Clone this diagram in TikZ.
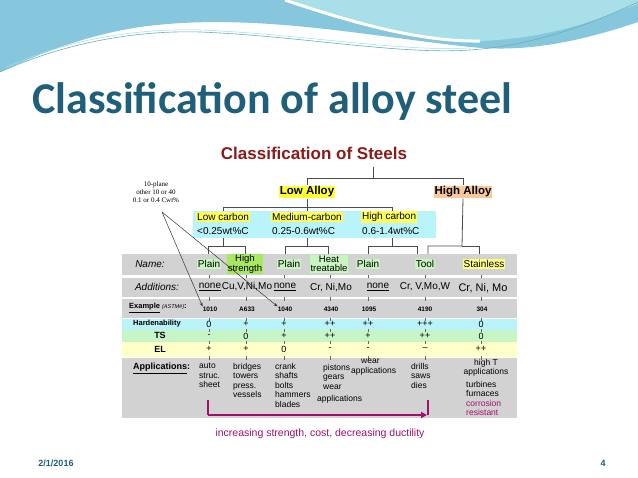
\documentclass[tikz,border=0pt]{standalone}
\usepackage{fontspec}
\setmainfont{Liberation Sans}
\newfontfamily\carlitofam{Carlito}
\newfontfamily\seriffam{Liberation Serif}
\usetikzlibrary{arrows.meta}
\definecolor{teal1}{HTML}{1F5F7A}
\definecolor{wave1}{HTML}{86C7DE}
\definecolor{wave2}{HTML}{A8DFE8}
\definecolor{dred}{HTML}{8B1A1A}
\definecolor{yel}{HTML}{FFFF33}
\definecolor{ora}{HTML}{F9C89B}
\definecolor{cya}{HTML}{B8F4FA}
\definecolor{lgr}{HTML}{C8F5C0}
\definecolor{hgr}{HTML}{A8E860}
\definecolor{band}{HTML}{D2D2D2}
\definecolor{tsg}{HTML}{C8F5C8}
\definecolor{ely}{HTML}{FFFFC8}
\definecolor{purp}{HTML}{A0106A}
\tikzset{
 t/.style={inner sep=1pt,font=\fontsize{10}{11}\selectfont,align=center},
 sm/.style={inner sep=0pt,font=\fontsize{6.5}{7}\selectfont\bfseries},
 vl/.style={font=\fontsize{9}{9}\selectfont,inner sep=0pt},
 app/.style={font=\fontsize{8.5}{9.5}\selectfont,align=left,anchor=north west,inner sep=0pt},
 tree/.style={draw=black!70,line width=0.8pt},
 tick/.style={draw=black!60,line width=0.5pt}
}
\begin{document}
\begin{tikzpicture}[x=1pt,y=-1pt]
\useasboundingbox (0,0) rectangle (638,478);
\fill[white] (0,0) rectangle (638,478);
% header waves
\fill[wave1] (0,0) -- (638,0) -- (638,22) .. controls (570,45) and (520,52) .. (470,47) .. controls (360,35) and (250,12) .. (140,27) .. controls (80,36) and (30,58) .. (0,72) -- cycle;
\fill[wave2] (290,0) .. controls (350,22) and (420,42) .. (480,41) .. controls (560,38) and (610,14) .. (638,4) -- (638,0) -- cycle;
\draw[white,line width=3pt] (285,0) .. controls (350,22) and (420,42) .. (480,41);
\draw[teal!60,line width=0.6pt] (0,72) .. controls (60,45) and (130,30) .. (200,32) .. controls (300,36) and (400,55) .. (470,50) .. controls (540,45) and (600,20) .. (638,2);
\draw[cyan!40,line width=0.5pt] (5,68) .. controls (60,42) and (130,28) .. (200,30) .. controls (300,34) and (400,52) .. (470,48);
% title
\node[anchor=west,inner sep=0pt,text=teal1,font=\carlitofam\bfseries\fontsize{44}{46}\selectfont] (title) at (32,101) {Classification of alloy steel};
% diagram
\node[text=dred,font=\fontsize{17}{18}\selectfont\bfseries,inner sep=0pt] (cs) at (314,153) {Classification of Steels};
\coordinate (top) at (373,167);
\node[t,fill=yel,font=\fontsize{11.5}{12}\selectfont\bfseries] (low) at (307,192) {Low Alloy};
\node[t,fill=ora,font=\fontsize{11.5}{12}\selectfont\bfseries] (high) at (463,192) {High Alloy};
\draw[tree] (top) -- (373,178) -| (low.north);
\draw[tree] (373,178) -| (high.north);
% carbon box
\fill[cya] (193,211) rectangle (436,238);
\node[t,anchor=west,fill=yel!80] (lc) at (196,217) {Low carbon};
\node[t,anchor=west] (lcv) at (196,231) {<0.25wt\%C};
\node[t,anchor=west,fill=yel!80] (mc) at (271,217) {Medium-carbon};
\node[t,anchor=west] (mcv) at (271,231) {0.25-0.6wt\%C};
\node[t,anchor=west,fill=yel!80] (hc) at (361,217) {High carbon};
\node[t,anchor=west] (hcv) at (361,231) {0.6-1.4wt\%C};
\draw[tree] (low.south) -- (307,207) -- (223,207) -- (223,211);
\draw[tree] (307,207) -- (392,207) -- (392,211);
\draw[tree] (307,207) -- (307,211);
% bands
\fill[band] (122,254) rectangle (517,275);
\fill[band] (122,278) rectangle (517,297);
\fill[band] (122,299) rectangle (517,318);
\fill[cya] (122,319) rectangle (517,330);
\fill[tsg] (122,330) rectangle (517,342);
\fill[ely] (122,342) rectangle (517,357);
\fill[band] (122,358) rectangle (517,418);
% names
\node[t,font=\fontsize{10}{11}\selectfont\itshape] (nm) at (150,264) {Name:};
\node[t,fill=lgr] (n1) at (209,264) {Plain};
\node[t,fill=hgr,font=\fontsize{9.5}{8.5}\selectfont] (n2) at (245,264) {High\\strength};
\node[t,fill=lgr] (n3) at (289,264) {Plain};
\node[t,fill=lgr,font=\fontsize{9.5}{8.5}\selectfont] (n4) at (329,264) {Heat\\treatable};
\node[t,fill=lgr] (n5) at (368,264) {Plain};
\node[t,fill=lgr] (n6) at (425,264) {Tool};
\node[t,fill=yel!60] (n7) at (484,264) {Stainless};
\draw[tree] (223,238) -- (223,246) -- (208,246) -- (208,254);
\draw[tree] (223,246) -- (245,246) -- (245,254);
\draw[tree] (307,238) -- (307,246) -- (285,246) -- (285,254);
\draw[tree] (307,246) -- (328,246) -- (328,254);
\draw[tree] (392,238) -- (392,246) -- (368,246) -- (368,254);
\draw[tree] (392,246) -- (417,246) -- (417,254);
\draw[tree] (high.south) -- (462,246) -- (428,246) -- (428,254);
\draw[tree] (462,246) -- (479,246) -- (479,254);
% ticks
\foreach \x in {209,246,284,330,368,425,481}{
 \draw[tick] (\x,275) -- (\x,278); \draw[tick] (\x,297) -- (\x,301);
 \draw[tick] (\x,318) -- (\x,321); \draw[tick] (\x,329) -- (\x,332);
 \draw[tick] (\x,341) -- (\x,344); \draw[tick] (\x,356) -- (\x,360);}
% additions
\node[t,font=\fontsize{10}{11}\selectfont\itshape] (ad) at (157,287) {Additions:};
\node[t] (a1) at (210,287) {\underline{none}};
\node[t] (a2) at (247,287) {Cu,V,Ni,Mo};
\node[t] (a3) at (285,287) {\underline{none}};
\node[t] (a4) at (331,288) {Cr, Ni,Mo};
\node[t] (a5) at (378,287) {\underline{none}};
\node[t] (a6) at (425,287) {Cr, V,Mo,W};
\node[t,font=\fontsize{11}{12}\selectfont] (a7) at (483,288) {Cr, Ni, Mo};
% example
\node[anchor=west,inner sep=0pt,font=\fontsize{7.5}{8}\selectfont\bfseries] (ex) at (129,308) {\underline{Example} {\mdseries\itshape\fontsize{5.5}{6}\selectfont(ASTM\#)}:};
\node[sm] (e1) at (210,309) {1010};
\node[sm] (e2) at (247,309) {A633};
\node[sm] (e3) at (285,309) {1040};
\node[sm] (e4) at (331,309) {4340};
\node[sm] (e5) at (369,309) {1095};
\node[sm] (e6) at (425,309) {4190};
\node[sm] (e7) at (482,309) {304};
% hardenability etc
\node[anchor=west,inner sep=0pt,font=\fontsize{7.5}{8}\selectfont\bfseries] (hd) at (133,324) {Hardenability};
\node[font=\fontsize{9}{9}\selectfont\bfseries,inner sep=0pt] (ts) at (160,335) {TS};
\node[font=\fontsize{9}{9}\selectfont\bfseries,inner sep=0pt] (el) at (160,349) {EL};
\foreach \x/\h/\s/\e [count=\i] in {209/0/-/+,246/+/0/+,284/+/+/0,330/++/++/-,368/++/+/-,425/+++/++/--,481/0/0/++}{
 \node[vl] (h\i) at (\x,324) {\h};
 \node[vl] (s\i) at (\x,336) {\s};
 \node[vl] (l\i) at (\x,349) {\e};}
% applications
\node[anchor=north west,inner sep=0pt,font=\fontsize{9}{10}\selectfont\bfseries] (ap) at (133,363) {\underline{Applications}:};
\node[app] (p1) at (199,363) {auto\\struc.\\sheet};
\node[app] (p2) at (233,363) {bridges\\towers\\press.\\vessels};
\node[app] (p3) at (275,363) {crank\\shafts\\bolts\\hammers\\blades};
\node[app] (p4) at (323,364) {pistons\\gears\\wear};
\node[app] (p4b) at (317,395) {applications};
\node[app] (p5) at (351,359) {\hspace*{10pt}wear\\applications};
\node[app] (p6) at (411,363) {drills\\saws\\dies};
\node[app,align=center,anchor=north] (p7) at (486,359) {high T\\applications};
\node[app,anchor=north west] (p7b) at (466,381) {turbines\\furnaces\\\textcolor{purp}{corrosion}\\\textcolor{purp}{resistant}};
\coordinate (ar1) at (208,400);
\coordinate (ar2) at (428,400);
\draw[purp,line width=1.5pt] (ar1) -- (208,415);
\draw[purp,line width=1.5pt,-{Triangle[length=6pt,width=6pt]}] (208,415) -- (427,415);
\draw[purp,line width=1.2pt] (ar2) -- (428,415);
\node[text=purp,font=\fontsize{10.5}{11}\selectfont,inner sep=0pt] (inc) at (320,434) {increasing strength, cost, decreasing ductility};
% annotation
\node[font=\seriffam\fontsize{7}{8}\selectfont,align=center,inner sep=0pt] (ann) at (156,192) {10-plane\\other 10 or 40\\0.1 or 0.4 Cwt\%};
\coordinate (af) at (162,212);
\draw[black!80,line width=0.5pt,-{Stealth[length=4pt]}] (af) -- (e1.north west);
\draw[black!80,line width=0.5pt,-{Stealth[length=4pt]}] (af) -- (e3.north west);
% footer
\node[text=teal1,font=\fontsize{9}{10}\selectfont\bfseries,inner sep=0pt] (date) at (56,463) {2/1/2016};
\node[text=teal1,font=\fontsize{9}{10}\selectfont\bfseries,inner sep=0pt] (pg) at (603,463) {4};
\end{tikzpicture}
\end{document}
